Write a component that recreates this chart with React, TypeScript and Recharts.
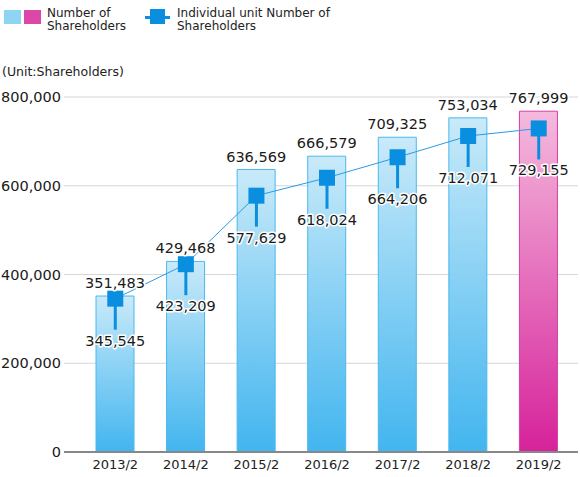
import React from "react";
import {
  ComposedChart,
  Bar,
  Line,
  XAxis,
  YAxis,
  CartesianGrid,
  Cell,
  LabelList,
} from "recharts";

const categories = ["2013/2", "2014/2", "2015/2", "2016/2", "2017/2", "2018/2", "2019/2"];
const shareholders = [351483, 429468, 636569, 666579, 709325, 753034, 767999];
const individualUnit = [345545, 423209, 577629, 618024, 664206, 712071, 729155];
const yTicks = [0, 200000, 400000, 600000, 800000];

const data = categories.map((c, i) => ({
  name: c,
  total: shareholders[i],
  individual: individualUnit[i],
}));

const FONT = "'DejaVu Sans', Verdana, sans-serif";
const fmt = (v: number) => String(v).replace(/\B(?=(\d{3})+(?!\d))/g, ",");

const haloStyle: React.CSSProperties = {
  paintOrder: "stroke",
  stroke: "#fff",
  strokeWidth: 3,
  strokeLinejoin: "round",
} as any;

const MarkerDot = (props: any) => {
  const { cx, cy, index } = props;
  if (cx == null || cy == null) return null;
  return (
    <g key={`dot-${index}`}>
      <line x1={cx} y1={cy} x2={cx} y2={cy + 31} stroke="#0a8fe0" strokeWidth={3} />
      <rect x={cx - 8} y={cy - 8} width={16} height={16} fill="#0a8fe0" />
    </g>
  );
};

const IndividualLabel = (props: any) => {
  const { x, y, value, index } = props;
  return (
    <text
      key={`il-${index}`}
      x={x}
      y={y + 47}
      textAnchor="middle"
      fontFamily={FONT}
      fontSize={14.5}
      fill="#1a1a1a"
      style={haloStyle}
    >
      {fmt(value)}
    </text>
  );
};

const TotalLabel = (props: any) => {
  const { x, y, width, value, index } = props;
  return (
    <text
      key={`tl-${index}`}
      x={x + width / 2}
      y={y - 8}
      textAnchor="middle"
      fontFamily={FONT}
      fontSize={14.5}
      fill="#1a1a1a"
      style={haloStyle}
    >
      {fmt(value)}
    </text>
  );
};

const legendLine = (left: number, top: number, text: string) => (
  <div
    style={{
      position: "absolute",
      left,
      top,
      fontSize: 12,
      lineHeight: "13px",
      height: 13,
      color: "#222",
      whiteSpace: "nowrap",
    }}
  >
    {text}
  </div>
);

export default function App() {
  return (
    <div style={{ position: "absolute", left: 0, top: 0, width: 580, height: 477, fontFamily: FONT }}>
      <div style={{ position: "absolute", left: 4, top: 10, width: 17, height: 14, background: "#8ed4f3" }} />
      <div style={{ position: "absolute", left: 24, top: 10, width: 17, height: 14, background: "#dc48a9" }} />
      {legendLine(47, 7, "Number of")}
      {legendLine(47, 20, "Shareholders")}
      <div style={{ position: "absolute", left: 145, top: 16, width: 25, height: 3, background: "#0a8fe0" }} />
      <div style={{ position: "absolute", left: 150, top: 9, width: 15, height: 15, background: "#0a8fe0" }} />
      {legendLine(177, 7, "Individual unit Number of")}
      {legendLine(177, 20, "Shareholders")}
      <div style={{ position: "absolute", left: 2, top: 64, fontSize: 12.5, color: "#222", whiteSpace: "nowrap" }}>
        (Unit:Shareholders)
      </div>
      <ComposedChart
        width={580}
        height={477}
        data={data}
        margin={{ top: 97, right: 2, bottom: 0, left: 0 }}
        style={{ position: "absolute", left: 0, top: 0 }}
      >
        <defs>
          <linearGradient id="blueGrad" x1="0" y1="0" x2="0" y2="1">
            <stop offset="0%" stopColor="#c9eaf9" />
            <stop offset="100%" stopColor="#42b5ef" />
          </linearGradient>
          <linearGradient id="pinkGrad" x1="0" y1="0" x2="0" y2="1">
            <stop offset="0%" stopColor="#f4badd" />
            <stop offset="100%" stopColor="#d6229a" />
          </linearGradient>
        </defs>
        <CartesianGrid vertical={false} stroke="#d6d6d6" strokeWidth={1} />
        <XAxis
          dataKey="name"
          height={25}
          padding={{ left: 16, right: 4 }}
          axisLine={{ stroke: "#888", strokeWidth: 2 }}
          tickLine={false}
          tickSize={6}
          tickMargin={2}
          tick={{ fontSize: 13, fill: "#222", fontFamily: FONT }}
          interval={0}
        />
        <YAxis
          width={64}
          domain={[0, 800000]}
          ticks={yTicks}
          axisLine={false}
          tickLine={false}
          tickSize={0}
          tickMargin={3}
          tickFormatter={fmt}
          tick={{ fontSize: 14.5, fill: "#1a1a1a", fontFamily: FONT }}
        />
        <Bar dataKey="total" barSize={38} isAnimationActive={false}>
          {data.map((d, i) => (
            <Cell
              key={i}
              fill={i === data.length - 1 ? "url(#pinkGrad)" : "url(#blueGrad)"}
              stroke={i === data.length - 1 ? "#d63ea3" : "#4ab8ef"}
              strokeWidth={1}
            />
          ))}
          <LabelList dataKey="total" content={TotalLabel} />
        </Bar>
        <Line
          dataKey="individual"
          stroke="#2a9be6"
          strokeWidth={1}
          dot={MarkerDot}
          activeDot={false}
          isAnimationActive={false}
        >
          <LabelList dataKey="individual" content={IndividualLabel} />
        </Line>
      </ComposedChart>
    </div>
  );
}
